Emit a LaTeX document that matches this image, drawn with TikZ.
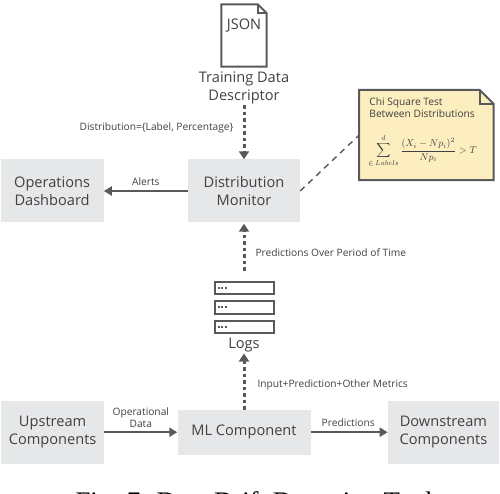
\documentclass[tikz,border=0pt]{standalone}
\usepackage{amsmath}
\usepackage{fontspec}
\setmainfont{Open Sans}
\newfontfamily\capfont{Liberation Serif}
\usetikzlibrary{arrows.meta, positioning}
\definecolor{boxgray}{RGB}{230,231,232}
\definecolor{linegray}{RGB}{88,89,91}
\definecolor{textgray}{RGB}{65,64,66}
\definecolor{noteyellow}{RGB}{252,238,190}
\tikzset{
  comp/.style={rectangle, fill=boxgray, text=textgray, minimum height=63pt,
               align=center, inner sep=0pt, font=\fontsize{14.6}{18}\selectfont},
  flow/.style={-{Triangle[length=8pt,width=9pt]}, line width=2.4pt, color=linegray},
  feed/.style={-{Triangle[length=8pt,width=10pt]}, line width=3pt, color=linegray,
               dash pattern=on 3.5pt off 3pt},
  tag/.style={text=textgray, align=center, inner sep=1pt, font=\fontsize{10.2}{12}\selectfont},
  title/.style={text=textgray, align=center, inner sep=0pt, font=\fontsize{14.6}{18}\selectfont},
  logrow/.style={rectangle, draw=linegray, line width=2pt, fill=white,
                 minimum width=59pt, minimum height=12.5pt, inner sep=0pt},
  sheet/.style={draw=linegray, line width=2pt, line join=miter}
}
\begin{document}
\begin{tikzpicture}[x=1pt, y=1pt]
  \useasboundingbox (0,0) rectangle (500,-494);

  \node[comp, minimum width=112pt] (monitor) at (244,-191) {Distribution\\Monitor};
  \node[comp, minimum width=103pt, left=84pt of monitor] (dashboard) {Operations\\Dashboard};

  \node[title, above=55pt of monitor] (descriptor) {Training Data\\Descriptor};
  \node[minimum width=45pt, minimum height=62pt, inner sep=0pt, above=5pt of descriptor] (json) {};
  \draw[sheet, fill=white] (json.south west) -- (json.north west) -- ([xshift=-9pt]json.north east)
    -- ([yshift=-9pt]json.north east) -- (json.south east) -- cycle;
  \draw[sheet] ([xshift=-9pt]json.north east) -- ([xshift=-9pt,yshift=-9pt]json.north east)
    -- ([yshift=-9pt]json.north east);
  \node[title, anchor=center] (jsontext) at ([yshift=10pt]json.center) {JSON};

  \node[minimum width=134pt, minimum height=90pt, inner sep=0pt, right=59pt of monitor, yshift=56pt] (note) {};
  \draw[sheet, fill=noteyellow] (note.south west) -- (note.north west) -- ([xshift=-14pt]note.north east)
    -- ([yshift=-14pt]note.north east) -- (note.south east) -- cycle;
  \draw[sheet] ([xshift=-14pt]note.north east) -- ([xshift=-14pt,yshift=-14pt]note.north east)
    -- ([yshift=-14pt]note.north east);
  \node[tag, align=left, anchor=north west] (chitext)
    at ([xshift=9pt,yshift=-7pt]note.north west) {Chi Square Test\\Between Distributions};
  \node[text=textgray, inner sep=0pt, font=\fontsize{10.4}{12}\selectfont, anchor=north west] (chiform)
    at ([xshift=9pt,yshift=-45pt]note.north west)
    {$\displaystyle\sum_{\in\, Labels}^{d}\frac{(X_i-Np_i)^2}{Np_i}>T$};

  \node[logrow, below=58pt of monitor] (logtop) {};
  \node[logrow, below=5pt of logtop] (logmid) {};
  \node[logrow, below=5pt of logmid] (logbot) {};
  \foreach \row in {logtop, logmid, logbot} {
    \foreach \dx in {4,7.5,11}
      \fill[linegray] ([xshift=\dx pt]\row.west) ++(0,-1) rectangle ++(2,2);
  }
  \node[title, below=4pt of logbot] (logs) {Logs};

  \node[comp, minimum width=133pt, minimum height=45pt, below=57pt of logs] (ml) {ML Component};
  \node[comp, minimum width=103pt, left=73pt of ml] (upstream) {Upstream\\Components};
  \node[comp, minimum width=111pt, right=77pt of ml] (downstream) {Downstream\\Components};

  \node[inner sep=0pt, anchor=base, font=\capfont\fontsize{26.8}{30}\selectfont] (figcap) at (254,-510)
    {Fig. 7: Data Drift Detection Tool};

  % connectors
  \draw[feed, shorten <=1pt] (descriptor) -- node[tag, left=8pt, pos=0.42] {Distribution=\{Label, Percentage\}} (monitor);
  \draw[flow] (monitor) -- node[tag, above=3pt] {Alerts} (dashboard);
  \draw[line width=1.4pt, color=linegray, dash pattern=on 6pt off 5pt] (monitor.east) -- (note.west);
  \draw[feed, shorten <=10pt, shorten >=1pt] (logtop) -- node[tag, right=9pt, pos=0.48] {Predictions Over Period of Time} (monitor);
  \draw[feed, shorten >=1pt] (ml) -- node[tag, right=11pt, pos=0.44] {Input+Prediction+Other Metrics} (logs);
  \draw[flow] (upstream) -- node[tag, above=2pt] {Operational\\Data} (ml);
  \draw[flow] (ml) -- node[tag, above=3pt, xshift=-1pt] {Predictions} (downstream);
\end{tikzpicture}
\end{document}
